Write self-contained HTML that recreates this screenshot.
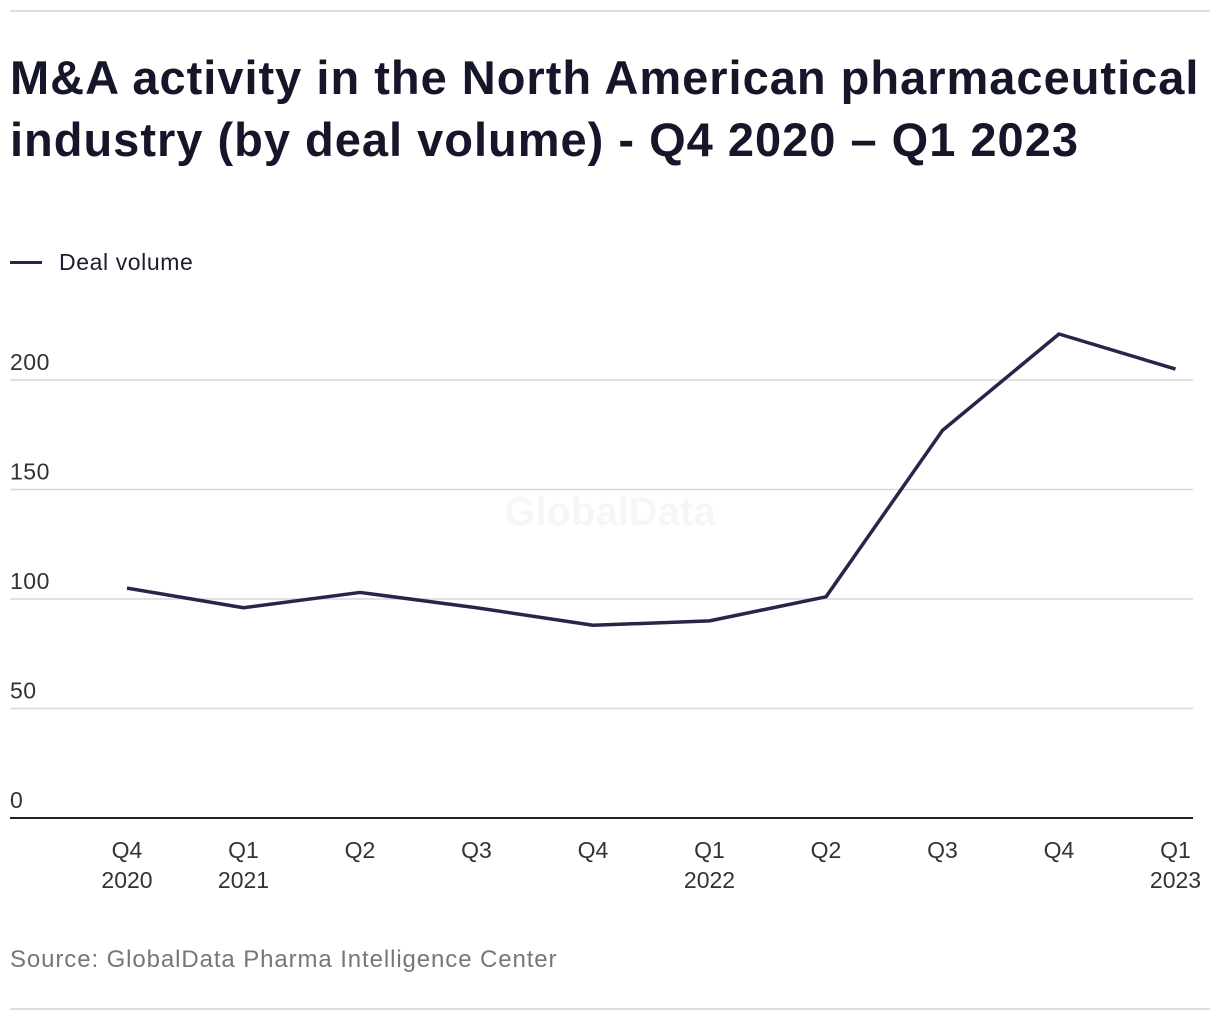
<!DOCTYPE html>
<html><head><meta charset="utf-8"><style>
body{margin:0;width:1220px;height:1020px;background:#fff;font-family:"Liberation Sans",sans-serif;color:#1c1c33;position:relative;overflow:hidden}
.rule{position:absolute;left:10px;width:1200px;height:2px;background:#ddd}
h1{position:absolute;left:10px;top:47px;margin:0;font-size:47px;line-height:62px;font-weight:bold;letter-spacing:1px;color:#16162b;white-space:nowrap}
.legend{position:absolute;left:10px;top:249px;font-size:23px;letter-spacing:0.6px;display:flex;align-items:center}
.legend span.sw{width:32px;height:3px;background:#27264a;margin-right:17px}
.src{position:absolute;left:10px;top:946px;font-size:24px;letter-spacing:0.9px;color:#777}
svg{position:absolute;left:0;top:0}
</style></head><body>
<div class="rule" style="top:10px"></div>
<h1>M&amp;A activity in the North American pharmaceutical<br>industry (by deal volume) - Q4 2020 – Q1 2023</h1>
<div class="legend"><span class="sw"></span>Deal volume</div>
<svg id="chart" width="1220" height="1020"></svg>
<div class="src">Source: GlobalData Pharma Intelligence Center</div>
<div class="rule" style="top:1008px"></div>
<script>
const categories=[["Q4","2020"],["Q1","2021"],["Q2"],["Q3"],["Q4"],["Q1","2022"],["Q2"],["Q3"],["Q4"],["Q1","2023"]];
const values=[105,96,103,96,88,90,101,177,221,205];
const yTicks=[0,50,100,150,200];
const NS="http://www.w3.org/2000/svg";
const svg=document.getElementById('chart');
const y=v=>818-v*2.19;
const x=i=>127+i*116.5;
function mk(t,a){const e=document.createElementNS(NS,t);for(const k in a)e.setAttribute(k,a[k]);svg.appendChild(e);return e;}
const wm=mk('text',{x:610,y:525,'text-anchor':'middle','font-size':40,'font-weight':'bold',fill:'#f6f6f6','font-family':'Liberation Sans'});
wm.textContent='GlobalData';


yTicks.forEach(t=>{
 const l=mk('line',{x1:10,x2:1193,y1:y(t),y2:y(t),stroke:t===0?'#222':'#d8d8d8','stroke-width':t===0?2:1.5});
 
 
 const tx=mk('text',{x:10,y:y(t)-10,'font-size':23,fill:'#333','font-family':'Liberation Sans','letter-spacing':0.5});
 tx.textContent=t;
 
 
});
categories.forEach((c,i)=>{
 c.forEach((s,j)=>{
  const tx=mk('text',{x:x(i),y:858+j*30,'text-anchor':'middle','font-size':23,fill:'#333','font-family':'Liberation Sans'});
  tx.textContent=s;
  
  
 });
});
const p=mk('polyline',{points:values.map((v,i)=>x(i)+','+y(v)).join(' '),fill:'none',stroke:'#27264a','stroke-width':3.5,'stroke-linejoin':'round'});


</script>
</body></html>
